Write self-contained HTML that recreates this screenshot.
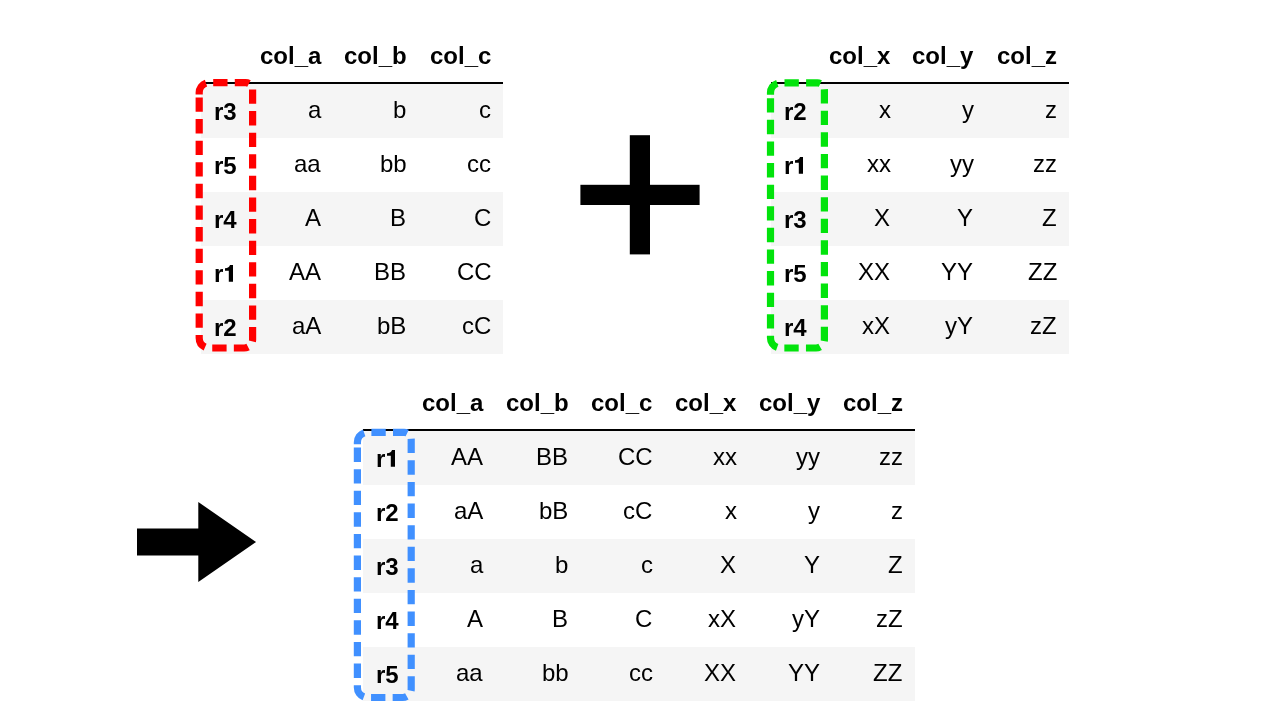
<!DOCTYPE html>
<html><head><meta charset="utf-8"><title>join</title>
<style>
html,body{margin:0;padding:0;background:#fff;}
body{width:1280px;height:720px;position:relative;overflow:hidden;font-family:"Liberation Sans",sans-serif;}
.t{will-change:transform;position:absolute;font-size:24px;line-height:0;height:0;white-space:nowrap;color:#000;display:block;}
.t.b{font-weight:bold;}
.ln{position:absolute;height:2px;background:#000;}
.sh{position:absolute;background:#f5f5f5;}
svg{position:absolute;left:0;top:0;}
</style></head><body>

<div class="ln" style="left:201px;top:82px;width:302.00px"></div>
<div class="sh" style="left:201px;top:84px;width:302.00px;height:54px"></div>
<div class="sh" style="left:201px;top:192px;width:302.00px;height:54px"></div>
<div class="sh" style="left:201px;top:300px;width:302.00px;height:54px"></div>
<span class="t b" style="right:959.00px;top:55.68px">col_a</span>
<span class="t b" style="right:873.50px;top:55.68px">col_b</span>
<span class="t b" style="right:788.80px;top:55.68px">col_c</span>
<span class="t b" style="right:1043.00px;top:111.68px">r3</span>
<span class="t" style="right:959.00px;top:109.68px">a</span>
<span class="t" style="right:873.50px;top:109.68px">b</span>
<span class="t" style="right:788.80px;top:109.68px">c</span>
<span class="t b" style="right:1043.00px;top:165.68px">r5</span>
<span class="t" style="right:959.00px;top:163.68px">aa</span>
<span class="t" style="right:873.50px;top:163.68px">bb</span>
<span class="t" style="right:788.80px;top:163.68px">cc</span>
<span class="t b" style="right:1043.00px;top:219.68px">r4</span>
<span class="t" style="right:959.00px;top:217.68px">A</span>
<span class="t" style="right:873.50px;top:217.68px">B</span>
<span class="t" style="right:788.80px;top:217.68px">C</span>
<span class="t b" style="right:1056.34px;top:273.68px">r</span>
<span class="t" style="right:959.00px;top:271.68px">AA</span>
<span class="t" style="right:873.50px;top:271.68px">BB</span>
<span class="t" style="right:788.80px;top:271.68px">CC</span>
<span class="t b" style="right:1043.00px;top:327.68px">r2</span>
<span class="t" style="right:959.00px;top:325.68px">aA</span>
<span class="t" style="right:873.50px;top:325.68px">bB</span>
<span class="t" style="right:788.80px;top:325.68px">cC</span>
<div class="ln" style="left:771px;top:82px;width:298.20px"></div>
<div class="sh" style="left:771px;top:84px;width:298.20px;height:54px"></div>
<div class="sh" style="left:771px;top:192px;width:298.20px;height:54px"></div>
<div class="sh" style="left:771px;top:300px;width:298.20px;height:54px"></div>
<span class="t b" style="right:389.50px;top:55.68px">col_x</span>
<span class="t b" style="right:306.50px;top:55.68px">col_y</span>
<span class="t b" style="right:223.00px;top:55.68px">col_z</span>
<span class="t b" style="right:473.00px;top:111.68px">r2</span>
<span class="t" style="right:389.50px;top:109.68px">x</span>
<span class="t" style="right:306.50px;top:109.68px">y</span>
<span class="t" style="right:223.00px;top:109.68px">z</span>
<span class="t b" style="right:486.34px;top:165.68px">r</span>
<span class="t" style="right:389.50px;top:163.68px">xx</span>
<span class="t" style="right:306.50px;top:163.68px">yy</span>
<span class="t" style="right:223.00px;top:163.68px">zz</span>
<span class="t b" style="right:473.00px;top:219.68px">r3</span>
<span class="t" style="right:389.50px;top:217.68px">X</span>
<span class="t" style="right:306.50px;top:217.68px">Y</span>
<span class="t" style="right:223.00px;top:217.68px">Z</span>
<span class="t b" style="right:473.00px;top:273.68px">r5</span>
<span class="t" style="right:389.50px;top:271.68px">XX</span>
<span class="t" style="right:306.50px;top:271.68px">YY</span>
<span class="t" style="right:223.00px;top:271.68px">ZZ</span>
<span class="t b" style="right:473.00px;top:327.68px">r4</span>
<span class="t" style="right:389.50px;top:325.68px">xX</span>
<span class="t" style="right:306.50px;top:325.68px">yY</span>
<span class="t" style="right:223.00px;top:325.68px">zZ</span>
<div class="ln" style="left:362.9px;top:429px;width:551.90px"></div>
<div class="sh" style="left:362.9px;top:431px;width:551.90px;height:54px"></div>
<div class="sh" style="left:362.9px;top:539px;width:551.90px;height:54px"></div>
<div class="sh" style="left:362.9px;top:647px;width:551.90px;height:54px"></div>
<span class="t b" style="right:797.00px;top:402.68px">col_a</span>
<span class="t b" style="right:711.50px;top:402.68px">col_b</span>
<span class="t b" style="right:627.20px;top:402.68px">col_c</span>
<span class="t b" style="right:543.50px;top:402.68px">col_x</span>
<span class="t b" style="right:459.70px;top:402.68px">col_y</span>
<span class="t b" style="right:377.20px;top:402.68px">col_z</span>
<span class="t b" style="right:894.34px;top:458.68px">r</span>
<span class="t" style="right:797.00px;top:456.68px">AA</span>
<span class="t" style="right:711.50px;top:456.68px">BB</span>
<span class="t" style="right:627.20px;top:456.68px">CC</span>
<span class="t" style="right:543.50px;top:456.68px">xx</span>
<span class="t" style="right:459.70px;top:456.68px">yy</span>
<span class="t" style="right:377.20px;top:456.68px">zz</span>
<span class="t b" style="right:881.00px;top:512.68px">r2</span>
<span class="t" style="right:797.00px;top:510.68px">aA</span>
<span class="t" style="right:711.50px;top:510.68px">bB</span>
<span class="t" style="right:627.20px;top:510.68px">cC</span>
<span class="t" style="right:543.50px;top:510.68px">x</span>
<span class="t" style="right:459.70px;top:510.68px">y</span>
<span class="t" style="right:377.20px;top:510.68px">z</span>
<span class="t b" style="right:881.00px;top:566.68px">r3</span>
<span class="t" style="right:797.00px;top:564.68px">a</span>
<span class="t" style="right:711.50px;top:564.68px">b</span>
<span class="t" style="right:627.20px;top:564.68px">c</span>
<span class="t" style="right:543.50px;top:564.68px">X</span>
<span class="t" style="right:459.70px;top:564.68px">Y</span>
<span class="t" style="right:377.20px;top:564.68px">Z</span>
<span class="t b" style="right:881.00px;top:620.68px">r4</span>
<span class="t" style="right:797.00px;top:618.68px">A</span>
<span class="t" style="right:711.50px;top:618.68px">B</span>
<span class="t" style="right:627.20px;top:618.68px">C</span>
<span class="t" style="right:543.50px;top:618.68px">xX</span>
<span class="t" style="right:459.70px;top:618.68px">yY</span>
<span class="t" style="right:377.20px;top:618.68px">zZ</span>
<span class="t b" style="right:881.00px;top:674.68px">r5</span>
<span class="t" style="right:797.00px;top:672.68px">aa</span>
<span class="t" style="right:711.50px;top:672.68px">bb</span>
<span class="t" style="right:627.20px;top:672.68px">cc</span>
<span class="t" style="right:543.50px;top:672.68px">XX</span>
<span class="t" style="right:459.70px;top:672.68px">YY</span>
<span class="t" style="right:377.20px;top:672.68px">ZZ</span>
<svg width="1280" height="720" viewBox="0 0 1280 720">
<path transform="translate(233.00,281.80)" d="M0,-16.9 L-3.0,-16.9 C-3.5,-15.3 -5,-13.7 -8,-13.5 L-8,-11.0 L-4.2,-11.0 L-4.2,0 L0,0 Z" fill="#000"/>
<path transform="translate(803.00,173.80)" d="M0,-16.9 L-3.0,-16.9 C-3.5,-15.3 -5,-13.7 -8,-13.5 L-8,-11.0 L-4.2,-11.0 L-4.2,0 L0,0 Z" fill="#000"/>
<path transform="translate(395.00,466.80)" d="M0,-16.9 L-3.0,-16.9 C-3.5,-15.3 -5,-13.7 -8,-13.5 L-8,-11.0 L-4.2,-11.0 L-4.2,0 L0,0 Z" fill="#000"/>
<path d="M199.20,94.60 L199.20,92.60 A10.0,10.0 0 0 1 209.20,82.60 L245.60,82.60 A7.0,7.0 0 0 1 252.60,89.60 L252.60,339.50 A8.5,8.5 0 0 1 244.10,348.00 L209.20,348.00 A10.0,10.0 0 0 1 199.20,338.00 L199.20,94.60" fill="none" stroke="#ff0000" stroke-width="7.2" stroke-dasharray="14.35 7.25"/>
<path d="M770.50,94.80 L770.50,92.80 A10.0,10.0 0 0 1 780.50,82.80 L817.40,82.80 A7.0,7.0 0 0 1 824.40,89.80 L824.40,339.50 A8.5,8.5 0 0 1 815.90,348.00 L780.50,348.00 A10.0,10.0 0 0 1 770.50,338.00 L770.50,94.80" fill="none" stroke="#02e30c" stroke-width="7.2" stroke-dasharray="14.35 7.25"/>
<path d="M357.40,444.30 L357.40,442.30 A10.0,10.0 0 0 1 367.40,432.30 L404.20,432.30 A7.0,7.0 0 0 1 411.20,439.30 L411.20,689.00 A8.5,8.5 0 0 1 402.70,697.50 L367.40,697.50 A10.0,10.0 0 0 1 357.40,687.50 L357.40,444.30" fill="none" stroke="#4090ff" stroke-width="7.2" stroke-dasharray="14.35 7.25"/>
<rect x="580.4" y="184.8" width="119.2" height="20.2" fill="#000"/>
<rect x="629.8" y="135.2" width="20.2" height="119.2" fill="#000"/>
<polygon points="137,528.5 198.3,528.5 198.3,502 256,542 198.3,582 198.3,555.5 137,555.5" fill="#000"/>
</svg>
</body></html>
